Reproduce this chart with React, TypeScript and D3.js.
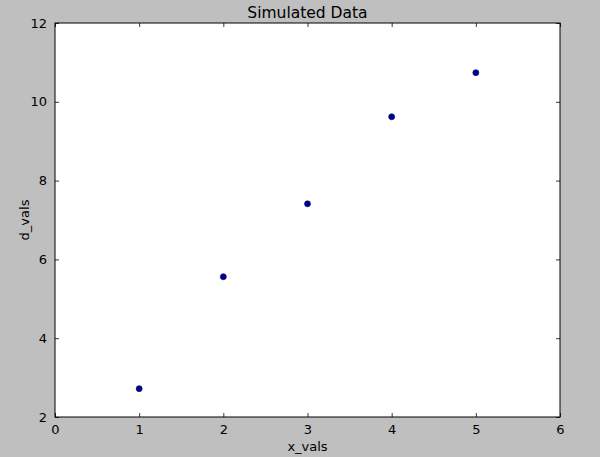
import * as d3 from 'd3';
import { useEffect, useRef } from 'react';

const xVals = [1, 2, 3, 4, 5];
const dVals = [2.72, 5.56, 7.41, 9.62, 10.74];
const xTicks = [0, 1, 2, 3, 4, 5, 6];
const yTicks = [2, 4, 6, 8, 10, 12];

const width = 600;
const height = 457;
const margin = { top: 23, right: 40, bottom: 40, left: 55 };
const font = 'DejaVu Sans, sans-serif';

export default function App() {
  const svgRef = useRef<SVGSVGElement>(null);

  useEffect(() => {
    const svgEl = d3.select(svgRef.current!);
    svgEl.selectAll('*').remove();

    const innerW = width - margin.left - margin.right;
    const innerH = height - margin.top - margin.bottom;

    const xScale = d3.scaleLinear().domain([0, 6]).range([0, innerW]);
    const yScale = d3.scaleLinear().domain([2, 12]).range([innerH, 0]);

    svgEl.append('rect').attr('width', width).attr('height', height).attr('fill', '#bfbfbf');

    const g = svgEl.append('g').attr('transform', `translate(${margin.left},${margin.top})`);

    g.append('rect').attr('width', innerW).attr('height', innerH).attr('fill', '#ffffff');

    const styleAxis = (sel: d3.Selection<SVGGElement, unknown, null, undefined>) => {
      sel.select('.domain').remove();
      sel.selectAll('.tick line').attr('stroke', '#000').attr('stroke-width', 0.8);
      sel.selectAll('.tick text').attr('fill', '#000');
      sel.attr('font-family', font).attr('font-size', 13);
    };

    // bottom / top
    g.append('g')
      .attr('transform', `translate(0,${innerH})`)
      .call(d3.axisBottom(xScale).tickValues(xTicks).tickFormat(d3.format('d')).tickSizeInner(-4).tickPadding(8))
      .call(styleAxis);
    g.append('g')
      .call(d3.axisTop(xScale).tickValues(xTicks).tickFormat(() => '').tickSizeInner(-4))
      .call(styleAxis);

    // left / right
    g.append('g')
      .call(d3.axisLeft(yScale).tickValues(yTicks).tickFormat(d3.format('d')).tickSizeInner(-4).tickPadding(8))
      .call(styleAxis);
    g.append('g')
      .attr('transform', `translate(${innerW},0)`)
      .call(d3.axisRight(yScale).tickValues(yTicks).tickFormat(() => '').tickSizeInner(-4))
      .call(styleAxis);

    g.append('rect')
      .attr('width', innerW)
      .attr('height', innerH)
      .attr('fill', 'none')
      .attr('stroke', '#000')
      .attr('stroke-width', 1);

    g.append('g')
      .selectAll('circle')
      .data(xVals.map((x, i) => [x, dVals[i]] as [number, number]))
      .enter()
      .append('circle')
      .attr('cx', (d) => xScale(d[0]))
      .attr('cy', (d) => yScale(d[1]))
      .attr('r', 3)
      .attr('fill', '#0000a0')
      .attr('stroke', '#000033')
      .attr('stroke-width', 0.6);

    svgEl.append('text')
      .attr('x', margin.left + innerW / 2)
      .attr('y', 18)
      .attr('text-anchor', 'middle')
      .attr('font-family', font)
      .attr('font-size', 15.5)
      .attr('fill', '#000')
      .text('Simulated Data');

    svgEl.append('text')
      .attr('x', margin.left + innerW / 2)
      .attr('y', 451)
      .attr('text-anchor', 'middle')
      .attr('font-family', font)
      .attr('font-size', 13)
      .attr('fill', '#000')
      .text('x_vals');

    svgEl.append('text')
      .attr('transform', `translate(29,${margin.top + innerH / 2}) rotate(-90)`)
      .attr('text-anchor', 'middle')
      .attr('font-family', font)
      .attr('font-size', 13)
      .attr('fill', '#000')
      .text('d_vals');
  }, []);

  return (
    <svg
      ref={svgRef}
      width={width}
      height={height}
      style={{ position: 'absolute', left: 0, top: 0, display: 'block' }}
    />
  );
}
